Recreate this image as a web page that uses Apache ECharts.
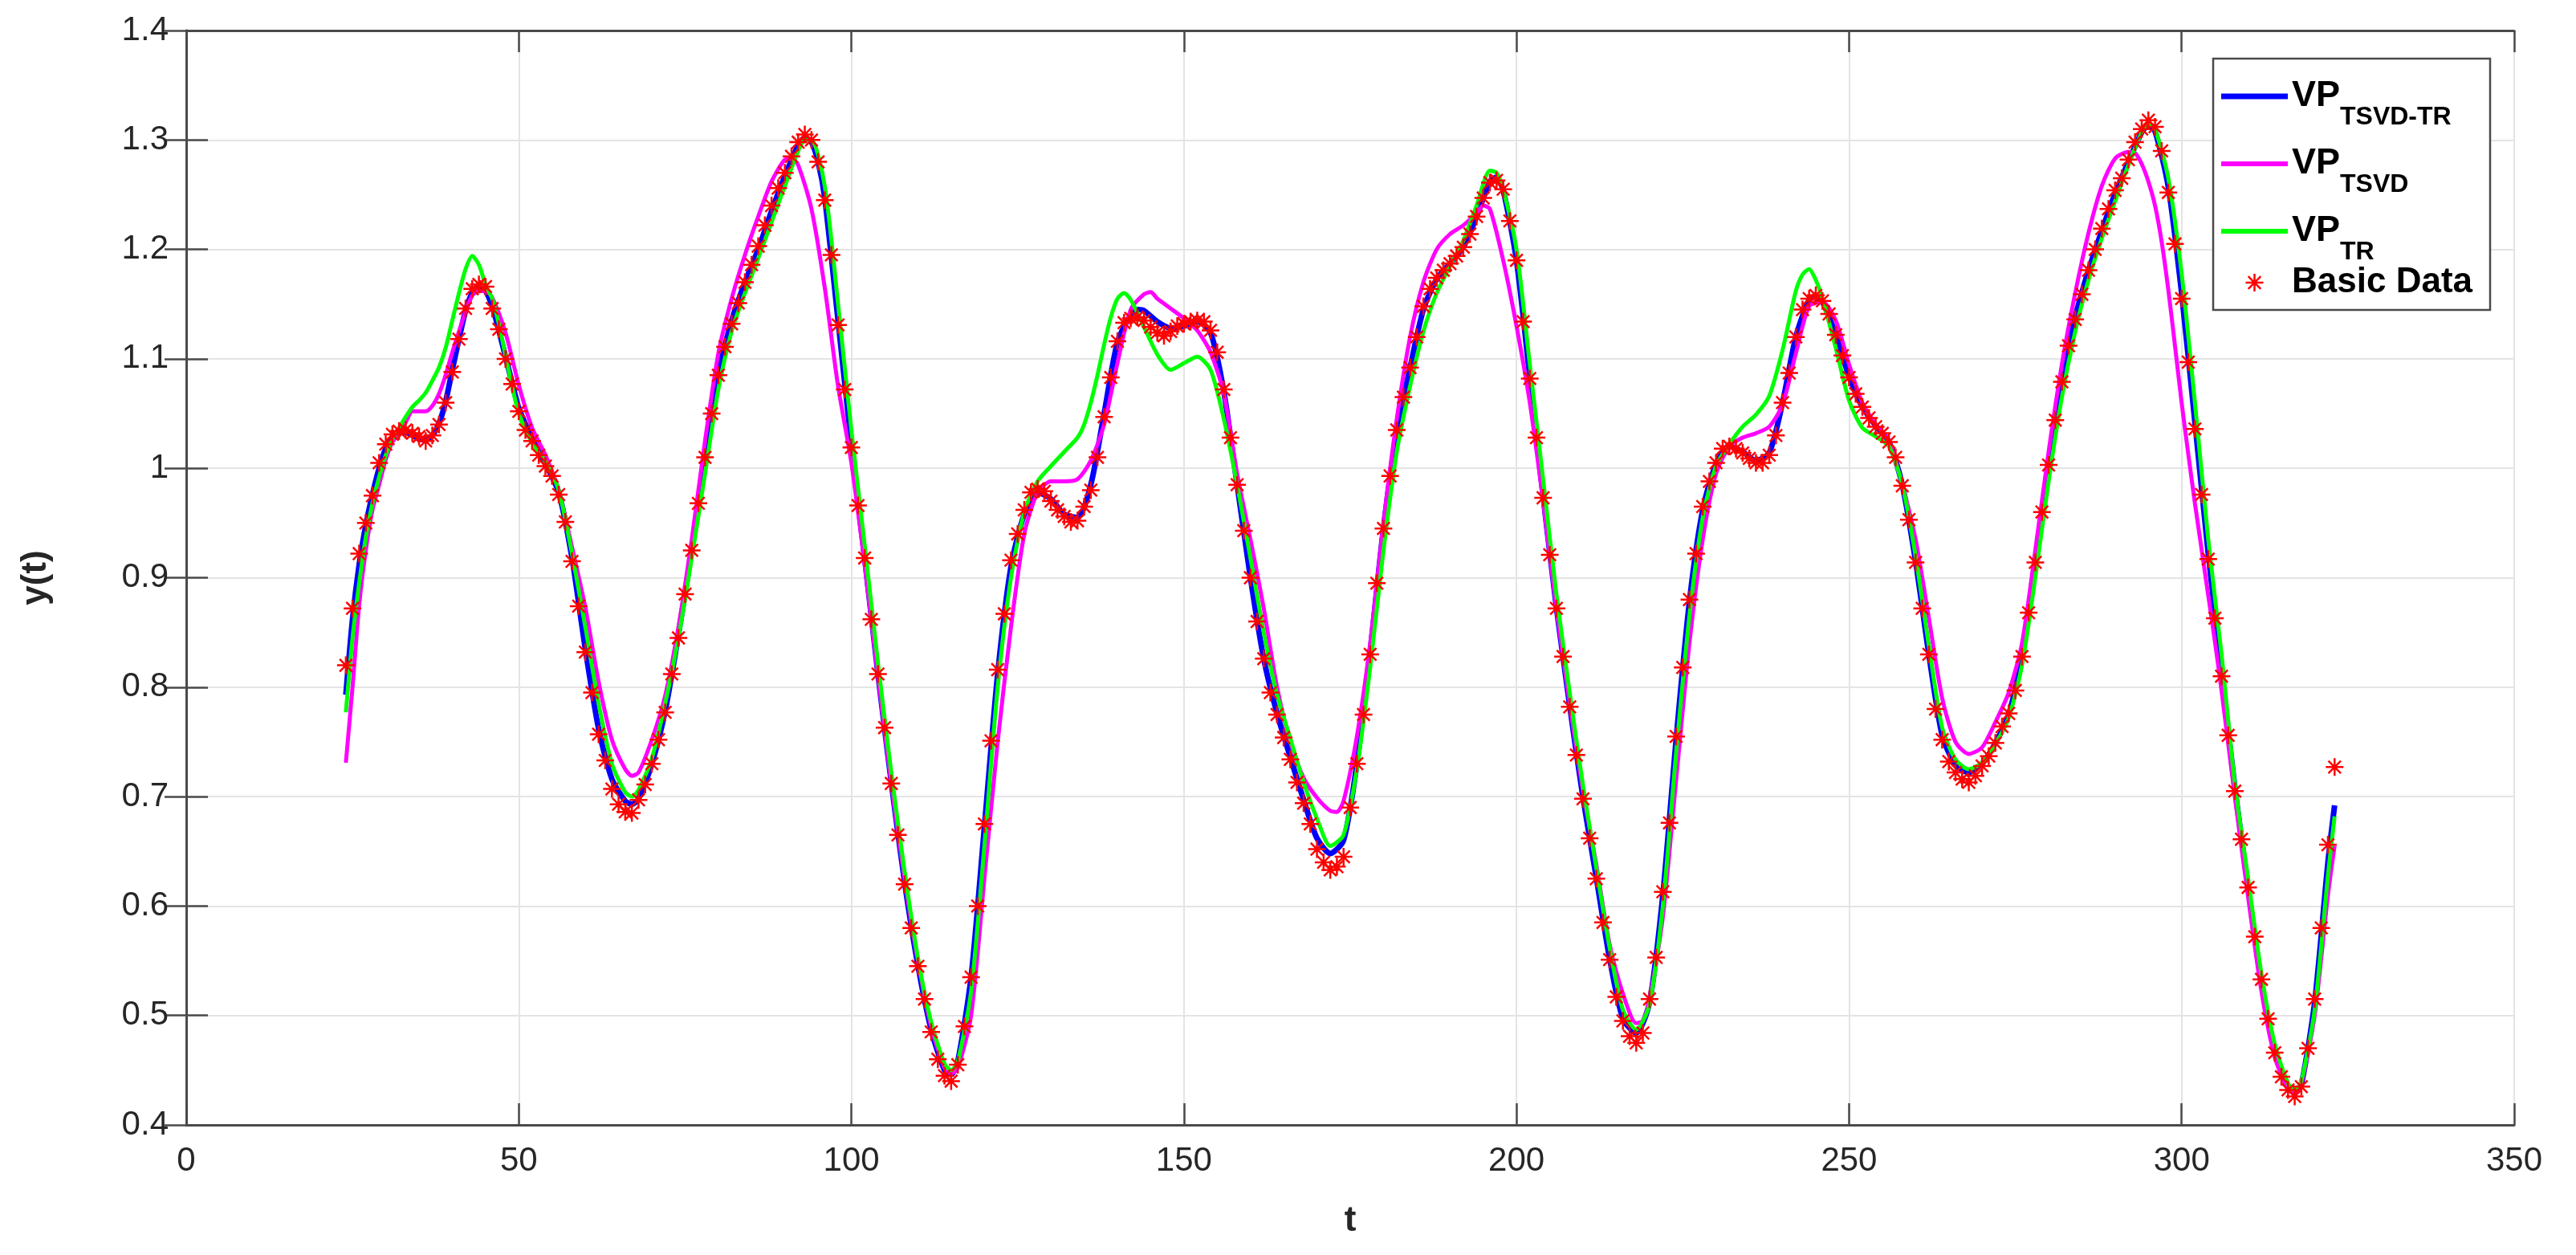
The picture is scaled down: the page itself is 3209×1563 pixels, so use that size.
<!DOCTYPE html>
<html>
<head>
<meta charset="utf-8">
<script src="https://cdn.jsdelivr.net/npm/echarts@6/dist/echarts.min.js"></script>
<style>
html,body{margin:0;padding:0;background:#fff;}
#chart{width:3209px;height:1563px;}
</style>
</head>
<body>
<div id="chart"></div>
<script>
// x tick labels / y tick settings
const xTicks = [0, 50, 100, 150, 200, 250, 300, 350];
const yTicks = [0.4, 0.5, 0.6, 0.7, 0.8, 0.9, 1.0, 1.1, 1.2, 1.3, 1.4];

// Basic Data: one point per t, starting at t = 24
const basicStartT = 24;
const basicData = [
 0.820,0.872,0.922,0.950,0.975,1.005,1.022,1.031,1.034,1.035,
 1.032,1.029,1.025,1.030,1.040,1.060,1.088,1.118,1.146,1.164,
 1.168,1.166,1.146,1.127,1.100,1.077,1.052,1.035,1.025,1.012,
 1.002,0.993,0.976,0.951,0.915,0.874,0.832,0.795,0.757,0.733,
 0.707,0.693,0.686,0.685,0.697,0.711,0.730,0.752,0.777,0.812,
 0.845,0.885,0.925,0.968,1.010,1.050,1.085,1.111,1.132,1.151,
 1.170,1.186,1.203,1.222,1.240,1.256,1.270,1.285,1.298,1.305,
 1.300,1.280,1.245,1.195,1.131,1.072,1.019,0.966,0.918,0.862,
 0.812,0.763,0.712,0.665,0.620,0.580,0.545,0.515,0.485,0.460,
 0.445,0.440,0.455,0.490,0.535,0.600,0.675,0.751,0.816,0.867,
 0.916,0.940,0.962,0.978,0.981,0.979,0.970,0.962,0.956,0.951,
 0.952,0.965,0.980,1.010,1.047,1.083,1.116,1.133,1.137,1.138,
 1.135,1.129,1.124,1.121,1.125,1.130,1.132,1.134,1.135,1.134,
 1.126,1.106,1.072,1.028,0.985,0.943,0.900,0.860,0.826,0.795,
 0.775,0.754,0.734,0.713,0.694,0.675,0.652,0.640,0.633,0.636,
 0.645,0.690,0.730,0.775,0.830,0.895,0.945,0.993,1.035,1.065,
 1.092,1.120,1.148,1.164,1.174,1.181,1.187,1.194,1.202,1.214,
 1.230,1.247,1.261,1.263,1.255,1.226,1.190,1.134,1.082,1.028,
 0.973,0.921,0.872,0.828,0.782,0.738,0.698,0.662,0.625,0.585,
 0.551,0.517,0.495,0.481,0.475,0.484,0.515,0.553,0.613,0.676,
 0.755,0.818,0.880,0.922,0.965,0.988,1.005,1.018,1.020,1.018,
 1.014,1.009,1.005,1.005,1.012,1.030,1.060,1.087,1.120,1.145,
 1.155,1.158,1.153,1.141,1.122,1.103,1.083,1.068,1.056,1.046,
 1.038,1.032,1.024,1.010,0.984,0.953,0.914,0.872,0.830,0.780,
 0.752,0.732,0.722,0.716,0.713,0.719,0.728,0.737,0.749,0.764,
 0.776,0.797,0.828,0.868,0.914,0.960,1.003,1.044,1.079,1.112,
 1.136,1.159,1.181,1.200,1.219,1.237,1.254,1.265,1.282,1.298,
 1.310,1.318,1.312,1.290,1.252,1.205,1.155,1.097,1.036,0.976,
 0.917,0.863,0.810,0.756,0.705,0.661,0.617,0.572,0.533,0.497,
 0.466,0.444,0.432,0.426,0.435,0.470,0.515,0.580,0.656,0.727
];

// VP_TSVD-TR (blue) [t, y]
const lineTsvdTr = [
 [24,0.793],[25,0.862],[26,0.912],[27,0.948],[28,0.976],[29,1.000],[30,1.018],[31,1.028],[32,1.033],[33,1.033],
 [34,1.030],[35,1.027],[36,1.026],[37,1.030],[38,1.041],[39,1.061],[40,1.090],[41,1.118],[42,1.144],[43,1.160],
 [44,1.165],[45,1.162],[46,1.148],[47,1.126],[48,1.102],[49,1.078],[50,1.055],[52,1.027],[54,1.004],[56,0.978],
 [58,0.918],[60,0.835],[62,0.762],[64,0.716],[66,0.696],[67,0.693],[68,0.698],[70,0.730],[72,0.778],[74,0.848],
 [76,0.925],[78,1.008],[80,1.085],[82,1.135],[84,1.170],[86,1.200],[88,1.235],[90,1.267],[92,1.295],[93,1.302],
 [94,1.298],[95,1.280],[96,1.247],[98,1.135],[100,1.022],[102,0.918],[104,0.812],[106,0.713],[108,0.622],[110,0.546],
 [112,0.487],[114,0.450],[115,0.446],[116,0.458],[118,0.535],[120,0.672],[122,0.812],[124,0.910],[126,0.958],[128,0.978],
 [130,0.972],[132,0.958],[134,0.955],[136,0.985],[138,1.050],[140,1.115],[142,1.140],[143,1.145],[144,1.144],[146,1.134],
 [148,1.128],[150,1.130],[152,1.134],[154,1.124],[156,1.070],[158,0.985],[160,0.900],[162,0.826],[164,0.776],[166,0.736],
 [168,0.697],[170,0.662],[172,0.648],[174,0.660],[176,0.730],[178,0.832],[180,0.945],[182,1.033],[184,1.092],[186,1.145],
 [188,1.173],[190,1.187],[192,1.202],[194,1.230],[196,1.262],[197,1.266],[198,1.254],[200,1.190],[202,1.083],[204,0.975],
 [206,0.873],[208,0.783],[210,0.699],[212,0.626],[214,0.552],[216,0.497],[218,0.484],[220,0.512],[222,0.610],[224,0.752],
 [226,0.878],[228,0.962],[230,1.004],[232,1.020],[234,1.015],[236,1.007],[238,1.014],[240,1.060],[242,1.120],[244,1.154],
 [245,1.157],[246,1.152],[248,1.122],[250,1.084],[252,1.056],[254,1.039],[256,1.024],[258,0.985],[260,0.915],[262,0.830],
 [264,0.756],[266,0.729],[268,0.722],[270,0.730],[272,0.749],[274,0.775],[276,0.828],[278,0.915],[280,1.003],[282,1.079],
 [284,1.138],[286,1.181],[288,1.217],[290,1.251],[292,1.280],[294,1.307],[295,1.313],[296,1.308],[298,1.257],[300,1.160],
 [302,1.042],[304,0.922],[306,0.815],[308,0.708],[310,0.617],[312,0.530],[314,0.468],[316,0.434],[317,0.430],[318,0.437],
 [320,0.512],[322,0.640],[323,0.692]
];

// VP_TSVD (magenta) [t, y]
const lineTsvd = [
 [24,0.731],[25,0.800],[26,0.875],[27,0.925],[28,0.962],[29,0.985],[30,1.008],[31,1.024],[32,1.032],[33,1.042],
 [34,1.052],[35,1.052],[36,1.052],[37,1.057],[38,1.068],[39,1.085],[40,1.106],[42,1.143],[43,1.158],[44,1.162],
 [45,1.162],[46,1.156],[48,1.124],[50,1.076],[52,1.037],[54,1.012],[56,0.980],[58,0.928],[60,0.873],[62,0.805],
 [64,0.752],[66,0.725],[67,0.719],[68,0.722],[70,0.752],[72,0.792],[74,0.855],[76,0.935],[78,1.025],[80,1.105],
 [82,1.155],[84,1.195],[86,1.230],[88,1.262],[90,1.282],[91,1.283],[92,1.277],[94,1.237],[96,1.165],[98,1.075],
 [100,1.005],[102,0.912],[104,0.810],[106,0.712],[108,0.625],[110,0.550],[112,0.490],[114,0.452],[115,0.447],[116,0.452],
 [118,0.500],[120,0.625],[122,0.750],[124,0.855],[126,0.940],[128,0.978],[130,0.988],[132,0.988],[134,0.990],[136,1.007],
 [138,1.040],[140,1.096],[142,1.145],[144,1.159],[145,1.161],[146,1.155],[148,1.146],[150,1.137],[152,1.126],[154,1.106],
 [156,1.068],[158,0.995],[160,0.935],[162,0.872],[164,0.800],[166,0.750],[168,0.717],[170,0.699],[172,0.687],[173,0.686],
 [174,0.696],[176,0.755],[178,0.840],[180,0.950],[182,1.045],[184,1.120],[186,1.170],[188,1.200],[190,1.214],[192,1.222],
 [194,1.233],[195,1.240],[196,1.237],[198,1.190],[200,1.130],[202,1.060],[204,0.970],[206,0.872],[208,0.785],[210,0.705],
 [212,0.638],[214,0.565],[216,0.520],[218,0.493],[219,0.495],[220,0.515],[222,0.590],[224,0.715],[226,0.840],[228,0.935],
 [230,0.995],[232,1.020],[234,1.028],[236,1.032],[238,1.038],[240,1.058],[242,1.105],[244,1.148],[246,1.152],[248,1.135],
 [250,1.095],[252,1.060],[254,1.040],[256,1.024],[258,0.985],[260,0.935],[262,0.863],[264,0.790],[266,0.750],[268,0.739],
 [270,0.745],[272,0.768],[274,0.795],[276,0.840],[278,0.925],[280,1.015],[282,1.095],[284,1.160],[286,1.215],[288,1.258],
 [290,1.283],[292,1.289],[293,1.288],[294,1.278],[295,1.262],[296,1.240],[297,1.207],[298,1.163],[299,1.112],[300,1.060],
 [301,1.013],[302,0.968],[303,0.926],[304,0.884],[305,0.842],[306,0.797],[308,0.700],[310,0.608],[312,0.522],[314,0.462],
 [316,0.433],[317,0.429],[318,0.438],[320,0.500],[322,0.610],[323,0.655]
];

// VP_TR (green) [t, y]
const lineTr = [
 [24,0.777],[25,0.845],[26,0.895],[27,0.937],[28,0.968],[29,0.992],[30,1.012],[31,1.027],[32,1.037],[33,1.047],
 [34,1.056],[35,1.062],[36,1.069],[37,1.080],[38,1.092],[39,1.110],[40,1.135],[41,1.160],[42,1.182],[43,1.194],
 [44,1.186],[45,1.168],[46,1.155],[47,1.132],[48,1.103],[49,1.075],[50,1.050],[52,1.023],[54,1.006],[56,0.980],
 [58,0.922],[60,0.855],[62,0.785],[64,0.730],[66,0.704],[67,0.700],[68,0.706],[70,0.735],[72,0.785],[74,0.845],
 [76,0.918],[78,0.995],[80,1.072],[82,1.125],[84,1.160],[86,1.192],[88,1.225],[90,1.258],[92,1.290],[93,1.300],
 [94,1.300],[96,1.258],[98,1.150],[100,1.035],[102,0.930],[104,0.822],[106,0.722],[108,0.632],[110,0.553],[112,0.494],
 [114,0.456],[115,0.450],[116,0.458],[118,0.522],[120,0.655],[122,0.800],[124,0.900],[126,0.960],[128,0.988],[130,1.002],
 [132,1.015],[134,1.028],[135,1.040],[136,1.060],[137,1.085],[138,1.113],[139,1.138],[140,1.155],[141,1.160],[142,1.154],
 [144,1.129],[146,1.104],[148,1.090],[150,1.096],[152,1.102],[154,1.090],[156,1.045],[158,0.985],[160,0.918],[162,0.850],
 [164,0.793],[166,0.753],[168,0.713],[170,0.680],[172,0.655],[174,0.665],[176,0.725],[178,0.818],[180,0.925],[182,1.015],
 [184,1.075],[186,1.125],[188,1.160],[190,1.185],[192,1.208],[194,1.240],[196,1.272],[197,1.270],[198,1.255],[200,1.200],
 [202,1.095],[204,0.990],[206,0.885],[208,0.795],[210,0.710],[212,0.635],[214,0.562],[216,0.505],[218,0.487],[220,0.510],
 [222,0.600],[224,0.740],[226,0.865],[228,0.955],[230,1.002],[232,1.022],[234,1.038],[236,1.049],[238,1.066],[240,1.108],
 [242,1.162],[243,1.177],[244,1.182],[245,1.172],[246,1.155],[248,1.110],[250,1.062],[252,1.037],[254,1.029],[256,1.020],
 [258,0.985],[260,0.920],[262,0.838],[264,0.763],[266,0.734],[268,0.725],[270,0.731],[272,0.748],[274,0.772],[276,0.820],
 [278,0.900],[280,0.988],[282,1.065],[284,1.125],[286,1.172],[288,1.210],[290,1.244],[292,1.277],[294,1.307],[295,1.315],
 [296,1.310],[298,1.265],[300,1.178],[302,1.060],[304,0.935],[306,0.830],[308,0.712],[310,0.625],[312,0.538],[314,0.474],
 [316,0.438],[317,0.432],[318,0.440],[320,0.505],[322,0.628],[323,0.682]
];

const seriesNames = ['VPTSVD-TR', 'VPTSVD', 'VPTR', 'Basic Data'];
const legendSubs = {'VPTSVD-TR': 'TSVD-TR', 'VPTSVD': 'TSVD', 'VPTR': 'TR'};
const seriesColors = ['#0000ff', '#ff00ff', '#00ff00', '#ff0000'];

const basicPairs = basicData.map((y, i) => [basicStartT + i, y]);

const FONT = '"Liberation Sans", Arial, Helvetica, sans-serif';
const AXIS_COLOR = '#4a4a4a';
const starPath = 'path://M0,-10L0,10M-10,0L10,0M-7.07,-7.07L7.07,7.07M-7.07,7.07L7.07,-7.07';
const legendLineThick = 'path://M0,0L83,0L83,7L0,7Z';
const legendLineThin = 'path://M0,0L83,0L83,6L0,6Z';

const chart = echarts.init(document.getElementById('chart'), null, {renderer: 'canvas'});

const baseX = {
  type: 'value', min: xTicks[0], max: xTicks[xTicks.length - 1], interval: xTicks[1] - xTicks[0]
};
const baseY = {
  type: 'value', min: yTicks[0], max: yTicks[yTicks.length - 1], interval: 0.1
};
const tickStyle = {show: true, inside: true, length: 27, lineStyle: {color: AXIS_COLOR, width: 2.5}};
const lineStyleAxis = {show: true, lineStyle: {color: AXIS_COLOR, width: 3}};

chart.setOption({
  animation: false,
  backgroundColor: '#ffffff',
  grid: {left: 232, right: 77, top: 38, bottom: 162, containLabel: false},
  xAxis: [
    Object.assign({}, baseX, {
      position: 'bottom',
      name: 't', nameLocation: 'middle', nameGap: 98,
      nameTextStyle: {fontFamily: FONT, fontSize: 44, fontWeight: 'bold', color: '#262626'},
      axisLine: lineStyleAxis, axisTick: tickStyle,
      axisLabel: {fontFamily: FONT, fontSize: 42, color: '#262626', margin: 24},
      splitLine: {show: true, lineStyle: {color: '#e4e4e4', width: 2}}
    }),
    Object.assign({}, baseX, {
      position: 'top',
      axisLine: lineStyleAxis, axisTick: tickStyle,
      axisLabel: {show: false}, splitLine: {show: false}
    })
  ],
  yAxis: [
    Object.assign({}, baseY, {
      position: 'left',
      name: 'y(t)', nameLocation: 'middle', nameGap: 165, nameRotate: 90,
      nameTextStyle: {fontFamily: FONT, fontSize: 44, fontWeight: 'bold', color: '#262626'},
      axisLine: lineStyleAxis, axisTick: tickStyle,
      axisLabel: {fontFamily: FONT, fontSize: 42, color: '#262626', margin: 22},
      splitLine: {show: true, lineStyle: {color: '#e4e4e4', width: 2}}
    }),
    Object.assign({}, baseY, {
      position: 'right',
      axisLine: lineStyleAxis, axisTick: tickStyle,
      axisLabel: {show: false}, splitLine: {show: false}
    })
  ],
  legend: {
    orient: 'vertical',
    left: 2757, top: 73,
    itemWidth: 83, itemHeight: 22, itemGap: 0,
    padding: [5, 22, 12, 10],
    backgroundColor: '#ffffff',
    borderColor: '#4a4a4a', borderWidth: 2.5, borderRadius: 0,
    data: [
      {name: seriesNames[0], icon: legendLineThick, itemStyle: {color: seriesColors[0], borderWidth: 0}},
      {name: seriesNames[1], icon: legendLineThin, itemStyle: {color: seriesColors[1], borderWidth: 0}},
      {name: seriesNames[2], icon: legendLineThin, itemStyle: {color: seriesColors[2], borderWidth: 0}},
      {name: seriesNames[3], icon: starPath,
       itemStyle: {color: 'rgba(0,0,0,0)', borderColor: seriesColors[3], borderWidth: 2.5}}
    ],
    formatter: function (name) {
      if (legendSubs[name]) return '{a|VP}{b|' + legendSubs[name] + '}';
      return '{c|' + name + '}';
    },
    textStyle: {
      color: '#000',
      rich: {
        a: {fontFamily: FONT, fontSize: 45, fontWeight: 'bold', lineHeight: 48, color: '#000'},
        b: {fontFamily: FONT, fontSize: 32, fontWeight: 'bold', lineHeight: 30, padding: [52, 0, 0, 0], color: '#000'},
        c: {fontFamily: FONT, fontSize: 44, fontWeight: 'bold', lineHeight: 50, color: '#000'}
      }
    }
  },
  series: [
    {
      name: seriesNames[0], type: 'line', data: lineTsvdTr, symbol: 'none', smooth: 0.25,
      lineStyle: {color: seriesColors[0], width: 7}, itemStyle: {color: seriesColors[0]}, z: 2
    },
    {
      name: seriesNames[1], type: 'line', data: lineTsvd, symbol: 'none', smooth: 0.25,
      lineStyle: {color: seriesColors[1], width: 5}, itemStyle: {color: seriesColors[1]}, z: 3
    },
    {
      name: seriesNames[2], type: 'line', data: lineTr, symbol: 'none', smooth: 0.25,
      lineStyle: {color: seriesColors[2], width: 5}, itemStyle: {color: seriesColors[2]}, z: 4
    },
    {
      name: seriesNames[3], type: 'scatter', data: basicPairs,
      symbol: starPath, symbolSize: 22,
      itemStyle: {color: 'rgba(0,0,0,0)', borderColor: seriesColors[3], borderWidth: 2.5, opacity: 1},
      z: 5
    }
  ]
});
</script>
</body>
</html>
